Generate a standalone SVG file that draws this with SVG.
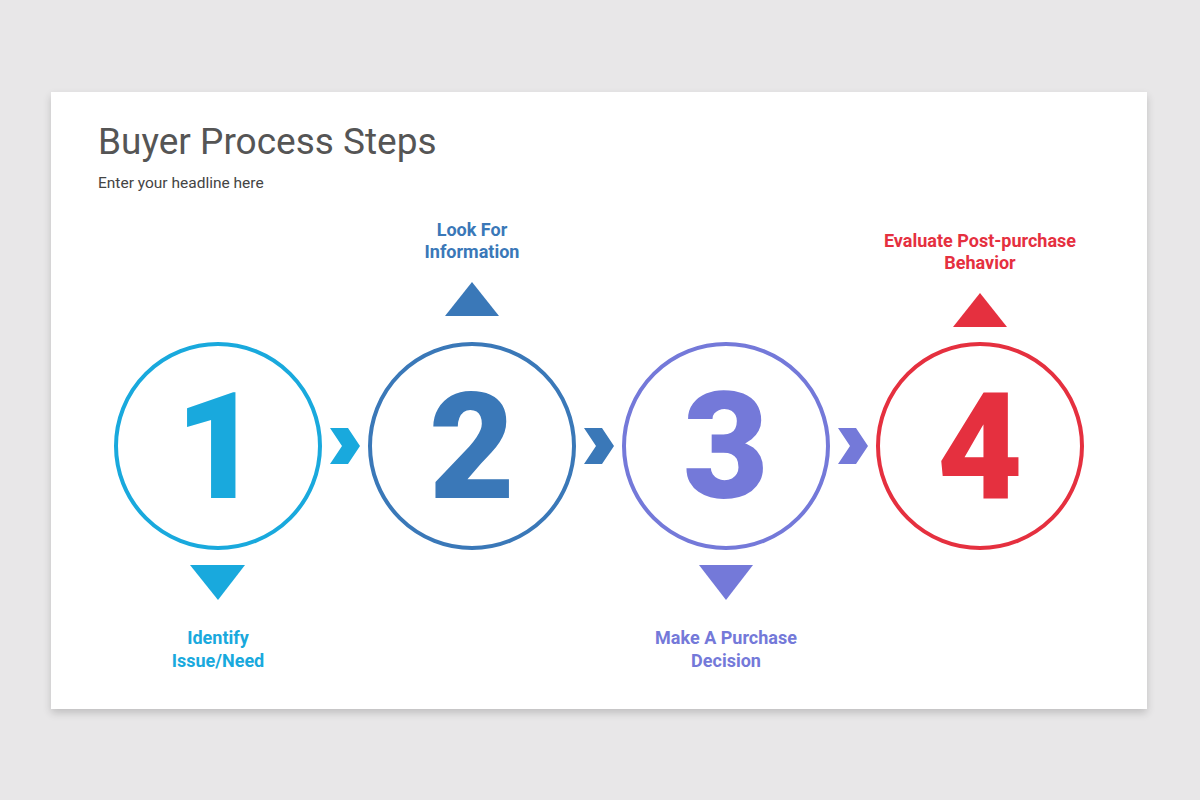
<svg xmlns="http://www.w3.org/2000/svg" width="1200" height="800" viewBox="0 0 1200 800">
<defs>
<filter id="sh" x="-5%" y="-5%" width="110%" height="115%">
<feGaussianBlur in="SourceAlpha" stdDeviation="4"/>
<feOffset dy="4"/>
<feComponentTransfer><feFuncA type="linear" slope="0.18"/></feComponentTransfer>
<feMerge><feMergeNode/><feMergeNode in="SourceGraphic"/></feMerge>
</filter>
</defs>
<style>
.ring{fill:none;stroke-width:4}
.num{font-family:Roboto,"Liberation Sans",sans-serif;font-weight:900;font-size:148px;text-anchor:middle}
.lbl{font-family:Roboto,"Liberation Sans",sans-serif;font-weight:700;font-size:18px;text-anchor:middle}
.f1{fill:#19a9dd}
.f2{fill:#3a78b8}
.f3{fill:#7479d9}
.f4{fill:#e5303f}
.s1{stroke:#19a9dd}
.s2{stroke:#3a78b8}
.s3{stroke:#7479d9}
.s4{stroke:#e5303f}
</style>
<rect x="0" y="0" width="1200" height="800" fill="#e8e7e8"/>
<rect x="51" y="92" width="1096" height="617" fill="#ffffff" filter="url(#sh)"/>
<text x="98" y="154" font-family="Roboto,'Liberation Sans',sans-serif" font-size="37" fill="#555555">Buyer Process Steps</text>
<text x="98" y="188" font-family="Roboto,'Liberation Sans',sans-serif" font-size="15.5" fill="#444444">Enter your headline here</text>
<g id="connectors">
<polygon class="f1" points="330,428 348,428 360,446 348,464 330,464 342,446"/>
<polygon class="f2" points="584,428 602,428 614,446 602,464 584,464 596,446"/>
<polygon class="f3" points="838,428 856,428 868,446 856,464 838,464 850,446"/>
</g>
<g id="step1">
<circle class="ring s1" cx="218" cy="446" r="102"/>
<text class="num f1" x="218" y="498">1</text>
<polygon class="f1" points="190,565 245,565 218,600"/>
<text class="lbl f1" x="218" y="644">Identify</text>
<text class="lbl f1" x="218" y="667">Issue/Need</text>
</g>
<g id="step2">
<circle class="ring s2" cx="472" cy="446" r="102"/>
<text class="num f2" x="472" y="498">2</text>
<polygon class="f2" points="445,316 499,316 472,282"/>
<text class="lbl f2" x="472" y="236">Look For</text>
<text class="lbl f2" x="472" y="258">Information</text>
</g>
<g id="step3">
<circle class="ring s3" cx="726" cy="446" r="102"/>
<text class="num f3" x="726" y="498">3</text>
<polygon class="f3" points="699,565 753,565 726,600"/>
<text class="lbl f3" x="726" y="644">Make A Purchase</text>
<text class="lbl f3" x="726" y="667">Decision</text>
</g>
<g id="step4">
<circle class="ring s4" cx="980" cy="446" r="102"/>
<text class="num f4" x="980" y="498">4</text>
<polygon class="f4" points="953,327 1007,327 980,293"/>
<text class="lbl f4" x="980" y="247">Evaluate Post-purchase</text>
<text class="lbl f4" x="980" y="269">Behavior</text>
</g>
</svg>
